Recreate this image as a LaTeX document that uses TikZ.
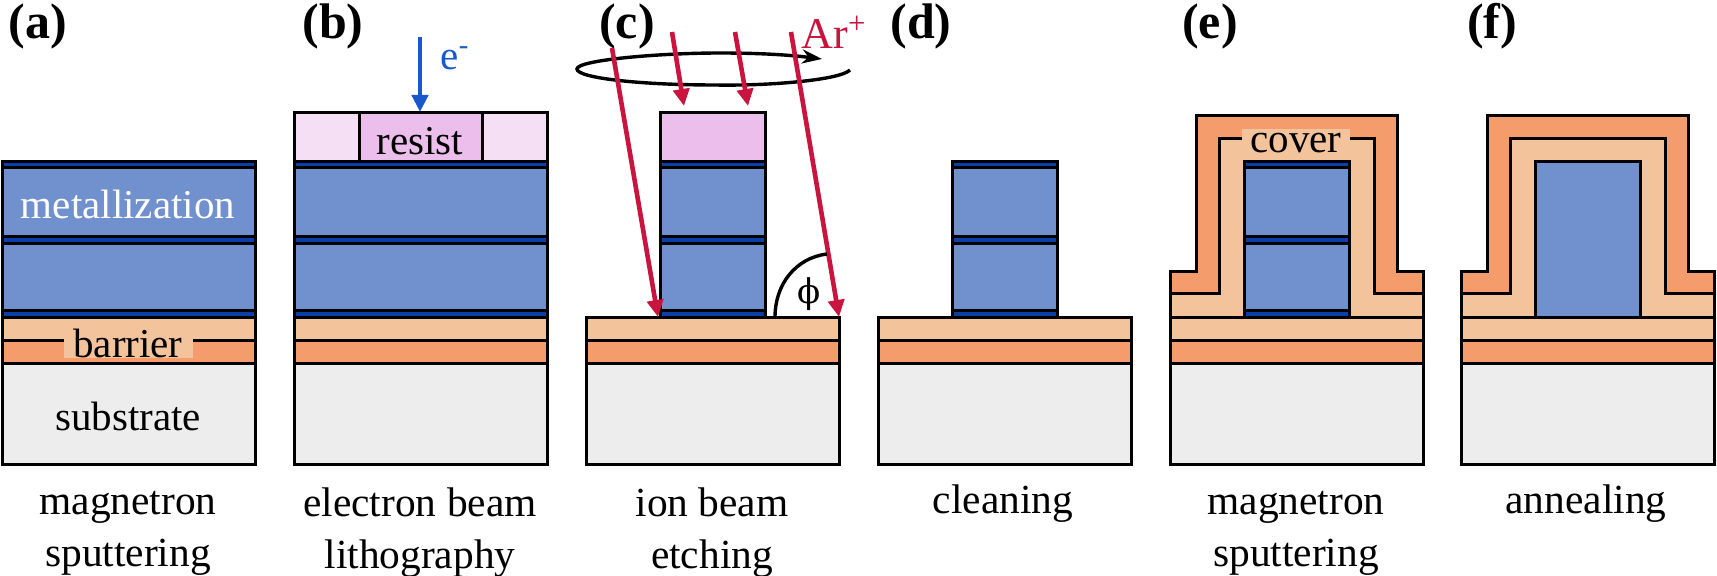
\documentclass[tikz,border=0pt]{standalone}
\usepackage{fontspec}
\setmainfont{Liberation Serif}
\usetikzlibrary{arrows.meta}
\definecolor{metal}{HTML}{7090CE}
\definecolor{thinb}{HTML}{0A3FA8}
\definecolor{peach}{HTML}{F3C39C}
\definecolor{orng}{HTML}{F49C6B}
\definecolor{subg}{HTML}{EDEDED}
\definecolor{resA}{HTML}{ECBEEC}
\definecolor{resB}{HTML}{F4DFF5}
\definecolor{ionred}{HTML}{C8143F}
\definecolor{eblue}{HTML}{1858CC}
\tikzset{
 x=0.5pt,y=-0.5pt,
 lay/.style={draw=black,line width=1.5pt,line join=miter},
 txt/.style={font=\fontsize{20.5}{24}\selectfont,inner sep=0pt,text=black},
 capt/.style={font=\fontsize{20.7}{26}\selectfont,align=center,inner sep=0pt},
 panel/.style={font=\fontsize{25}{28}\selectfont\bfseries,inner sep=0pt},
 ion/.style={draw=ionred,line width=2.3pt,-{Triangle[length=8.5pt,width=8pt]}},
}
\newcommand{\basestack}[1]{%
 \begin{scope}[shift={(#1,0)}]
 \fill[subg,lay] (0,364) rectangle (253,465);
 \fill[orng,lay] (0,341) rectangle (253,364);
 \fill[peach,lay] (0,318) rectangle (253,341);
 \end{scope}}
\newcommand{\metalstack}[2]{%
 \fill[thinb,lay] (#1,162) rectangle (#2,168);
 \fill[metal,lay] (#1,168) rectangle (#2,237);
 \fill[thinb,lay] (#1,237) rectangle (#2,244);
 \fill[metal,lay] (#1,244) rectangle (#2,311);
 \fill[thinb,lay] (#1,311) rectangle (#2,318);}
\begin{document}
\begin{tikzpicture}
\useasboundingbox (0,0) rectangle (1717,576);
\fill[white] (0,0) rectangle (1717,576);
% (a)
\basestack{2}
\metalstack{2}{255}
\node[txt,text=white] (metalA) at (128,204) {metallization};
\fill[peach] (64,330) rectangle (193,358);
\node[txt] (barrier) at (128,343) {barrier};
\node[txt] (substrate) at (128,416) {substrate};
\node[panel] (la) at (38,26) {(a)};
\node[capt] (ca) at (128,533) {magnetron\\sputtering};
% (b)
\basestack{294}
\metalstack{294}{547}
\fill[resB,lay] (294,113) rectangle (547,162);
\fill[resA,lay] (359,113) rectangle (482,162);
\node[txt] (resist) at (420,141) {resist};
\node[panel] (lb) at (333,26) {(b)};
\coordinate (eS) at (420,37);
\coordinate (eE) at (420,112);
\draw[draw=eblue,line width=2.3pt,-{Triangle[length=8.5pt,width=8pt]}] (eS) -- (eE);
\node[txt,text=eblue] (elec) at (455,58) {e\textsuperscript{-}};
\node[capt] (cb) at (420,533) {electron beam\\lithography};
% (c)
\basestack{586}
\metalstack{660}{765}
\fill[resA,lay] (660,113) rectangle (765,162);
\node[panel] (lc) at (627,26) {(c)};
\node[capt] (cc) at (712,533) {ion beam\\etching};
\coordinate (i1s) at (612,48); \coordinate (i1e) at (658,317);
\coordinate (i2s) at (672,32); \coordinate (i2e) at (684,106);
\coordinate (i3s) at (735,32); \coordinate (i3e) at (748,106);
\coordinate (i4s) at (791,32); \coordinate (i4e) at (839,317);
\draw[line width=1.7pt,-{Stealth[length=10pt,width=7pt]}] (850,70) .. controls (840,80) and (770,86) .. (715,85)
 .. controls (640,85) and (577,78) .. (577,69) .. controls (577,60) and (660,53) .. (720,53) .. controls (760,53) and (790,55) .. (822,59);
\draw[ion] (i1s) -- (i1e);
\draw[ion] (i2s) -- (i2e);
\draw[ion] (i3s) -- (i3e);
\draw[ion] (i4s) -- (i4e);
\node[txt,text=ionred,font=\fontsize{22}{24}\selectfont] (ar) at (834,32) {Ar\textsuperscript{+}};
\draw[line width=1.7pt] (775,317) .. controls (775,285) and (795,258) .. (827,254);
\node[txt] (phi) at (809,294) {\fontspec{DejaVu Serif}\fontsize{17}{20}\selectfont ϕ};
% (d)
\basestack{878}
\metalstack{952}{1057}
\node[capt] (cd) at (1003,504) {cleaning};
\node[panel] (ld) at (921,26) {(d)};
% (e)
\basestack{1170}
\fill[orng,lay] (1170,318) -- (1170,272) -- (1196,272) -- (1196,116) -- (1397,116) -- (1397,272) -- (1423,272) -- (1423,318) -- cycle;
\fill[peach,lay] (1170,318) -- (1170,294) -- (1219,294) -- (1219,139) -- (1374,139) -- (1374,294) -- (1423,294) -- (1423,318) -- cycle;
\metalstack{1244}{1349}
\fill[peach] (1242,129) rectangle (1350,159);
\node[txt] (cover) at (1296,143) {cover};
\node[panel] (le) at (1210,26) {(e)};
\node[capt] (ce) at (1296,533) {magnetron\\sputtering};
% (f)
\basestack{1461}
\fill[orng,lay] (1461,318) -- (1461,272) -- (1487,272) -- (1487,116) -- (1688,116) -- (1688,272) -- (1714,272) -- (1714,318) -- cycle;
\fill[peach,lay] (1461,318) -- (1461,294) -- (1510,294) -- (1510,139) -- (1665,139) -- (1665,294) -- (1714,294) -- (1714,318) -- cycle;
\fill[metal,lay] (1535,162) rectangle (1640,318);
\node[panel] (lf) at (1492,26) {(f)};
\node[capt] (cf) at (1586,504) {annealing};
\end{tikzpicture}
\end{document}
